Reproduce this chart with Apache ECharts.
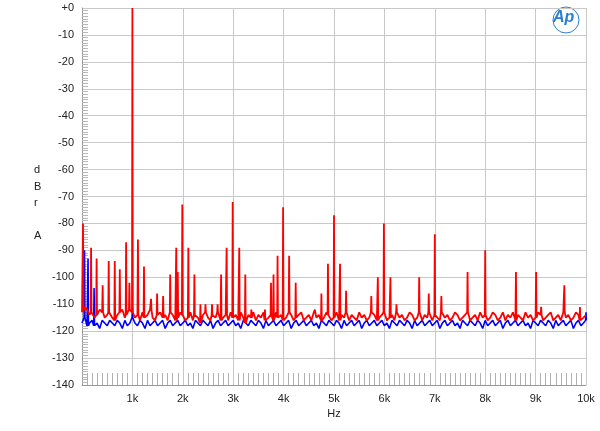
<!DOCTYPE html>
<html>
<head>
<meta charset="utf-8">
<script src="https://cdn.jsdelivr.net/npm/echarts@6/dist/echarts.min.js"></script>
<style>html,body{margin:0;padding:0;background:#fff}#chart{width:600px;height:431px}</style>
</head>
<body>
<div id="chart"></div>
<script>
// noise floor, one value every 50 Hz from 0 to 10 kHz
var floorStep = 50;
var redFloor = [-113,-111,-112,-114,-113,-115,-114,-112,-113,-115,-114,-113,-115,-116,-114,-113,-112,-115,-114,-112,
  -113,-115,-114,-116,-113,-115,-114,-112,-115,-116,-114,-113,-115,-114,-116,-113,-114,-116,-115,-113,
  -114,-116,-115,-113,-116,-114,-115,-117,-114,-113,-115,-116,-114,-115,-113,-116,-115,-114,-116,-113,
  -115,-114,-116,-113,-115,-117,-114,-115,-113,-116,-114,-115,-113,-116,-115,-114,-116,-113,-115,-114,
  -116,-115,-113,-114,-116,-115,-114,-113,-116,-115,-114,-116,-113,-115,-114,-116,-115,-113,-114,-116,
  -115,-113,-116,-114,-115,-113,-116,-114,-115,-116,-113,-115,-114,-116,-115,-113,-114,-116,-115,-114,
  -113,-116,-115,-114,-116,-113,-115,-114,-116,-115,-113,-114,-116,-115,-113,-116,-114,-115,-113,-116,
  -114,-115,-116,-113,-115,-114,-116,-115,-113,-114,-116,-115,-114,-113,-116,-115,-114,-116,-113,-115,
  -114,-116,-115,-113,-114,-116,-115,-113,-116,-114,-115,-113,-116,-114,-115,-116,-113,-115,-114,-116,
  -115,-113,-114,-116,-115,-114,-113,-116,-115,-114,-116,-113,-115,-114,-116,-115,-113,-114,-116,-115,-114];
var blueFloor = [-117,-115,-118,-117,-116,-118,-117,-119,-116,-117,-118,-116,-117,-118,-116,-117,-119,-116,-118,-117,
  -115,-117,-118,-116,-117,-119,-116,-118,-117,-116,-118,-117,-116,-119,-117,-116,-118,-117,-116,-118,
  -117,-116,-118,-117,-119,-116,-117,-118,-116,-117,-118,-116,-119,-117,-116,-118,-117,-116,-118,-117,
  -116,-118,-117,-119,-116,-117,-118,-116,-117,-118,-116,-117,-119,-116,-118,-117,-116,-118,-117,-116,
  -118,-117,-116,-119,-117,-116,-118,-117,-116,-118,-117,-116,-118,-117,-119,-116,-117,-118,-116,-117,
  -118,-116,-117,-119,-116,-118,-117,-116,-118,-117,-116,-119,-117,-116,-118,-117,-116,-118,-117,-116,
  -118,-117,-119,-116,-117,-118,-116,-117,-118,-116,-117,-119,-116,-118,-117,-116,-118,-117,-116,-118,
  -117,-116,-119,-117,-116,-118,-117,-116,-118,-117,-119,-116,-117,-118,-116,-117,-118,-116,-117,-119,
  -116,-118,-117,-116,-118,-117,-116,-119,-117,-116,-118,-117,-116,-118,-117,-116,-118,-117,-119,-116,
  -117,-118,-116,-117,-118,-116,-117,-119,-116,-118,-117,-116,-118,-117,-116,-119,-117,-116,-118,-117,-116];

// spectral peaks [Hz, dBr]
var redPeaks = [[20,-80],[180,-89],[290,-93],[410,-103],[530,-94],[650,-94],[750,-97],[875,-87],[940,-102],
  [1000,0],[1110,-86],[1230,-96],[1370,-108],[1490,-106],[1610,-107],[1750,-99],[1870,-89],[1900,-98],
  [1990,-73],[2110,-89],[2230,-99],[2350,-110],[2450,-110],[2580,-110],[2690,-110],[2760,-99],[2870,-89],
  [2990,-72],[3120,-89],[3240,-99],[3360,-112],[3630,-112],[3750,-102],[3800,-99],[3880,-92],[3990,-74],
  [4110,-92],[4240,-102],[4370,-113],[4620,-112],[4750,-106],[4880,-95],[5000,-77],[5120,-95],[5240,-105],
  [5740,-107],[5870,-100],[5990,-80],[6120,-100],[6240,-110],[6690,-100],[6880,-106],[7000,-84],[7130,-107],
  [7650,-98],[8000,-90],[8610,-98],[9010,-98],[9110,-111],[9570,-103],[9880,-111]];
var bluePeaks = [[50,-90],[120,-93],[240,-104],[1000,-111],[10000,-113]];

function buildSeries(floor, peaks) {
  var pts = [];
  floor.forEach(function (v, i) { pts.push([i * floorStep, v]); });
  peaks.forEach(function (p) {
    var base = floor[Math.round(p[0] / floorStep)];
    pts.push([Math.max(0, p[0] - 8), base], [p[0], p[1]], [p[0] + 8, base]);
  });
  pts.sort(function (a, b) { return a[0] - b[0]; });
  return pts;
}

var chart = echarts.init(document.getElementById('chart'));
var gridColor = '#c8c8c8';
var font = 'Arial, Liberation Sans';
chart.setOption({
  animation: false,
  grid: {left: 82, right: 14, top: 8, bottom: 46},
  xAxis: {
    type: 'value', min: 0, max: 10000, interval: 1000,
    axisLine: {show: true, onZero: false, lineStyle: {color: '#999'}},
    axisTick: {show: false, inside: true},
    minorTick: {show: true, splitNumber: 10, length: 12, lineStyle: {color: '#b0b0b0'}},
    splitLine: {show: true, lineStyle: {color: gridColor}},
    axisLabel: {color: '#222', fontSize: 11, fontFamily: font,
      formatter: function (v) { return v === 0 ? '' : (v / 1000) + 'k'; }},
    name: 'Hz', nameLocation: 'middle', nameGap: 22,
    nameTextStyle: {color: '#222', fontSize: 11, fontFamily: font}
  },
  yAxis: {
    type: 'value', min: -140, max: 0, interval: 10,
    axisLine: {show: true, lineStyle: {color: '#999'}},
    axisTick: {show: false, inside: true},
    minorTick: {show: true, splitNumber: 10, length: 6, lineStyle: {color: '#b8b8b8'}},
    splitLine: {show: true, lineStyle: {color: gridColor}},
    axisLabel: {color: '#222', fontSize: 11, fontFamily: font,
      formatter: function (v) { return v === 0 ? '+0' : v; }}
  },
  graphic: [
    {type: 'text', left: 34, top: 162, style: {text: 'd\nB\nr\n\nA', fill: '#222',
      font: '11px ' + font, lineHeight: 16.5, align: 'center'}},
    {type: 'text', left: 553, top: 10, style: {text: 'Ap', fill: '#2a7fd0',
      font: 'italic bold 16px ' + font}},
    {type: 'circle', shape: {cx: 566, cy: 20, r: 13}, style: {fill: 'none', stroke: '#2a7fd0', lineWidth: 1}}
  ],
  series: [
    {type: 'line', data: buildSeries(blueFloor, bluePeaks), showSymbol: false,
      lineStyle: {color: '#0000ff', width: 1.6}},
    {type: 'line', data: buildSeries(redFloor, redPeaks), showSymbol: false,
      lineStyle: {color: '#ff0000', width: 1.8}}
  ]
});
</script>
</body>
</html>
